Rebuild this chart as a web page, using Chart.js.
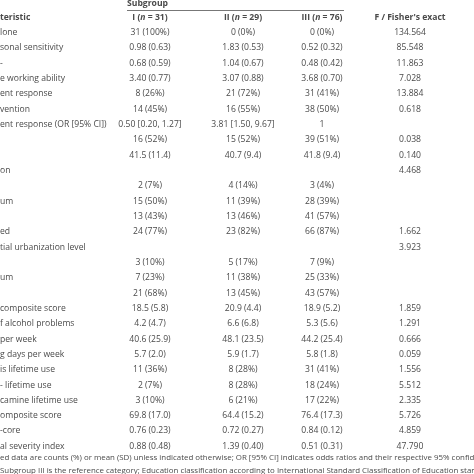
<!DOCTYPE html>
<html>
<head>
<meta charset="utf-8">
<script src="https://cdn.jsdelivr.net/npm/chart.js@4"></script>
<style>
  html, body { margin: 0; padding: 0; background: #fff; }
  #wrap { width: 474px; height: 474px; position: relative; }
</style>
</head>
<body>
<div id="wrap"><canvas id="tbl"></canvas></div>
<script>
// Table rows (row labels are cut at the left edge in the original)
const rowLabels = ["lone", "sonal sensitivity", "-", "e working ability", "ent response", "vention",
  "ent response (OR [95% CI])", "", "", "on", "", "um", "", "ed", "tial urbanization level", "", "um", "",
  "composite score", "f alcohol problems", "per week", "g days per week", "is lifetime use", "- lifetime use",
  "camine lifetime use", "omposite score", "-core", "al severity index"];
const group1 = ["31 (100%)", "0.98 (0.63)", "0.68 (0.59)", "3.40 (0.77)", "8 (26%)", "14 (45%)",
  "0.50 [0.20, 1.27]", "16 (52%)", "41.5 (11.4)", "", "2 (7%)", "15 (50%)", "13 (43%)", "24 (77%)", "",
  "3 (10%)", "7 (23%)", "21 (68%)", "18.5 (5.8)", "4.2 (4.7)", "40.6 (25.9)", "5.7 (2.0)", "11 (36%)",
  "2 (7%)", "3 (10%)", "69.8 (17.0)", "0.76 (0.23)", "0.88 (0.48)"];
const group2 = ["0 (0%)", "1.83 (0.53)", "1.04 (0.67)", "3.07 (0.88)", "21 (72%)", "16 (55%)",
  "3.81 [1.50, 9.67]", "15 (52%)", "40.7 (9.4)", "", "4 (14%)", "11 (39%)", "13 (46%)", "23 (82%)", "",
  "5 (17%)", "11 (38%)", "13 (45%)", "20.9 (4.4)", "6.6 (6.8)", "48.1 (23.5)", "5.9 (1.7)", "8 (28%)",
  "8 (28%)", "6 (21%)", "64.4 (15.2)", "0.72 (0.27)", "1.39 (0.40)"];
const group3 = ["0 (0%)", "0.52 (0.32)", "0.48 (0.42)", "3.68 (0.70)", "31 (41%)", "38 (50%)",
  "1", "39 (51%)", "41.8 (9.4)", "", "3 (4%)", "28 (39%)", "41 (57%)", "66 (87%)", "",
  "7 (9%)", "25 (33%)", "43 (57%)", "18.9 (5.2)", "5.3 (5.6)", "44.2 (25.4)", "5.8 (1.8)", "31 (41%)",
  "18 (24%)", "17 (22%)", "76.4 (17.3)", "0.84 (0.12)", "0.51 (0.31)"];
const fStat = ["134.564", "85.548", "11.863", "7.028", "13.884", "0.618", "", "0.038", "0.140",
  "4.468", "", "", "", "1.662", "3.923", "", "", "", "1.859", "1.291", "0.666", "0.059", "1.556",
  "5.512", "2.335", "5.726", "4.859", "47.790"];
const headers = [["I (", "n", " = 31)"], ["II (", "n", " = 29)"], ["III (", "n", " = 76)"], ["F / Fisher's exact", "", ""]];
const footnotes = [
  "ed data are counts (%) or mean (SD) unless indicated otherwise; OR [95% CI] indicates odds ratios and their respective 95% confidence interval [lo",
  "Subgroup III is the reference category; Education classification according to International Standard Classification of Education standard [34]; AUDIT"
];

const colX = [0, 150, 243, 322, 410]; // column anchors (label left, others centred)
const ink = "#4a4a4a";
const family = "'Open Sans', 'DejaVu Sans', sans-serif";

const tablePlugin = {
  id: "tableText",
  afterDraw(chart) {
    const ctx = chart.ctx;
    const y = chart.scales.y;
    ctx.save();
    ctx.fillStyle = ink;
    ctx.textBaseline = "middle";
    // header
    const bold = "bold 8.6px " + family, boldIt = "italic bold 8.6px " + family;
    ctx.font = bold;
    ctx.textAlign = "left";
    ctx.fillText("Subgroup", 127, 4);
    ctx.fillText("teristic", 0, 18);
    headers.forEach((parts, i) => {
      ctx.font = bold; const w0 = ctx.measureText(parts[0]).width, w2 = ctx.measureText(parts[2]).width;
      ctx.font = boldIt; const w1 = ctx.measureText(parts[1]).width;
      let x = colX[i + 1] - (w0 + w1 + w2) / 2;
      ctx.font = bold; ctx.fillText(parts[0], x, 18); x += w0;
      ctx.font = boldIt; ctx.fillText(parts[1], x, 18); x += w1;
      ctx.font = bold; ctx.fillText(parts[2], x, 18);
    });
    ctx.strokeStyle = "#777";
    ctx.lineWidth = 1;
    ctx.beginPath();
    ctx.moveTo(127, 10.5); ctx.lineTo(344, 10.5);
    ctx.stroke();
    // body
    ctx.font = "8.6px " + family;
    rowLabels.forEach((lab, i) => {
      const py = y.getPixelForValue(i);
      ctx.textAlign = "left";
      ctx.fillText(lab, colX[0], py);
      ctx.textAlign = "center";
      ctx.fillText(group1[i], colX[1], py);
      ctx.fillText(group2[i], colX[2], py);
      ctx.fillText(group3[i], colX[3], py);
      ctx.fillText(fStat[i], colX[4], py);
    });
    // footnotes
    ctx.font = "7.9px " + family;
    ctx.textAlign = "left";
    footnotes.forEach((f, i) => ctx.fillText(f, 0, 458 + i * 12.5));
    ctx.restore();
  }
};

new Chart(document.getElementById("tbl"), {
  type: "bar",
  data: {
    labels: rowLabels.map((_, i) => i),
    datasets: [{ data: rowLabels.map(() => 0), backgroundColor: "rgba(0,0,0,0)" }]
  },
  options: {
    indexAxis: "y",
    responsive: true,
    maintainAspectRatio: false,
    animation: false,
    layout: { padding: { top: 25, bottom: 20, left: 0, right: 0 } },
    plugins: { legend: { display: false }, tooltip: { enabled: false } },
    scales: {
      x: { display: false, min: 0, max: 1 },
      y: { display: false, offset: true }
    }
  },
  plugins: [tablePlugin]
});
</script>
</body>
</html>
